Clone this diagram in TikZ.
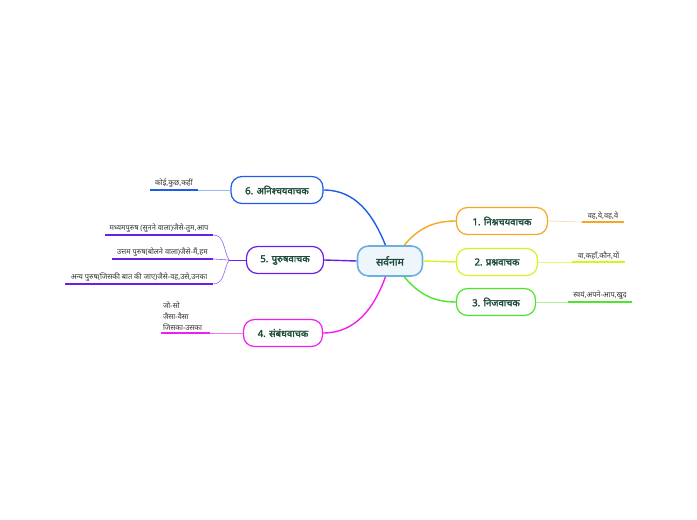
\documentclass[tikz,border=0pt]{standalone}
\usepackage{fontspec}
\setmainfont{Noto Sans}
\newfontfamily\deva[Script=Devanagari]{Noto Sans}
\newfontfamily\devabold[Script=Devanagari, FakeBold=2.2]{Noto Sans}
\usepackage{xcolor}
\usepackage{tikz}
\usetikzlibrary{positioning}
\definecolor{rootblue}{HTML}{6AB0E0}
\definecolor{rootfill}{HTML}{EEF6FC}
\definecolor{topictext}{HTML}{1D4A3A}
\definecolor{cone}{HTML}{F5A623}
\definecolor{ctwo}{HTML}{D8F21E}
\definecolor{cthree}{HTML}{4CE62A}
\definecolor{cfour}{HTML}{F01EF0}
\definecolor{cfive}{HTML}{6A1EE8}
\definecolor{csix}{HTML}{1E5CEB}
\tikzset{
    rootnode/.style = {rectangle, rounded corners=11pt, draw=rootblue, line width=1.6pt, fill=rootfill, text=topictext, font=\devabold\fontsize{10.5}{12}\selectfont, minimum width=65pt, minimum height=30pt},
    topicnode/.style = {rectangle, rounded corners=11pt, line width=1.2pt, fill=white, text=topictext, font=\devabold\fontsize{9.6}{11}\selectfont, minimum height=27pt},
    leafnode/.style = {anchor=south, inner xsep=0pt, inner ysep=2.5pt, text=black!80, font=\deva\fontsize{7.4}{11}\selectfont},
    mainline/.style = {line width=1.4pt},
    leafline/.style = {line width=2pt},
    thinline/.style = {line width=0.6pt},
}
\begin{document}
\begin{tikzpicture}[x=1pt, y=1pt]
  \useasboundingbox (0,0) rectangle (697,520);
  \node[rootnode] (root) at (390,259) {सर्वनाम};
  \node[topicnode, draw=cone, minimum width=91pt] (n1) at (502,299) {1. निश्नचयवाचक};
  \node[topicnode, draw=ctwo, minimum width=81pt] (n2) at (497,258) {2. प्रश्नवाचक};
  \node[topicnode, draw=cthree, minimum width=79pt] (n3) at (496,218) {3. निजवाचक};
  \node[topicnode, draw=cfour, minimum width=79pt] (n4) at (283,187) {4. संबंधवाचक};
  \node[topicnode, draw=cfive, minimum width=77pt] (n5) at (285,260) {5. पुरुषवाचक};
  \node[topicnode, draw=csix, minimum width=92pt] (n6) at (277,330) {6. अनिश्चयवाचक};

  \node[leafnode, minimum width=42pt] (l1) at (603,298) {वह,ये,वह,वे};
  \node[leafnode, minimum width=53pt] (l2) at (598.5,258) {वा,कहाँ,कौन,यों};
  \node[leafnode, minimum width=64pt] (l3) at (600,218) {स्वयं,अपने-आप,खुद};
  \node[leafnode, minimum width=48pt] (l6) at (174,330) {कोई,कुछ,कहीं};
  \node[leafnode, minimum width=108pt] (l5a) at (159,285) {मध्यमपुरुष (सुनने वाला)जैसे-तुम,आप};
  \node[leafnode, minimum width=101pt] (l5b) at (162.5,261) {उत्तम पुरुष(बोलने वाला)जैसे-मैं,हम};
  \node[leafnode, minimum width=148pt] (l5c) at (139,236) {अन्य पुरुष(जिसकी बात की जाए)जैसे-वह,उसे,उनका};
  \node[leafnode, text width=45pt, inner xsep=2pt, align=left] (l4) at (185.5,187) {जो-सो\\जैसा-वैसा\\जिसका-उसका};
  \coordinate (j5) at (229,260);

  \draw[mainline, cone] (root.48) to[out=50, in=180] (n1.west);
  \draw[mainline, ctwo] (root.east) -- (n2.west);
  \draw[mainline, cthree] (root.-48) to[out=-50, in=180] (n3.west);
  \draw[mainline, cfour] (root.-106) to[out=-110, in=0] (n4.east);
  \draw[mainline, cfive] (root.west) -- (n5.east);
  \draw[mainline, csix] (root.106) to[out=112, in=0] (n6.east);

  \draw[thinline, cone!45] (n1.east) -- (l1.south west);
  \draw[leafline, cone] (l1.south west) -- (l1.south east);
  \draw[thinline, ctwo!60] (n2.east) -- (l2.south west);
  \draw[leafline, ctwo] (l2.south west) -- (l2.south east);
  \draw[thinline, cthree!45] (n3.east) -- (l3.south west);
  \draw[leafline, cthree] (l3.south west) -- (l3.south east);
  \draw[thinline, csix!45] (n6.west) -- (l6.south east);
  \draw[leafline, csix] (l6.south west) -- (l6.south east);
  \draw[thinline, cfour!60] (n4.west) -- (l4.south east);
  \draw[leafline, cfour] (l4.south west) -- (l4.south east);
  \draw[thinline, cfive] (n5.west) -- (j5);
  \draw[thinline, cfive!70] (j5) to[out=120, in=0] (l5a.south east);
  \draw[thinline, cfive!70] (j5) -- (l5b.south east);
  \draw[thinline, cfive!70] (j5) to[out=240, in=0] (l5c.south east);
  \draw[leafline, cfive] (l5a.south west) -- (l5a.south east);
  \draw[leafline, cfive] (l5b.south west) -- (l5b.south east);
  \draw[leafline, cfive] (l5c.south west) -- (l5c.south east);
\end{tikzpicture}
\end{document}
